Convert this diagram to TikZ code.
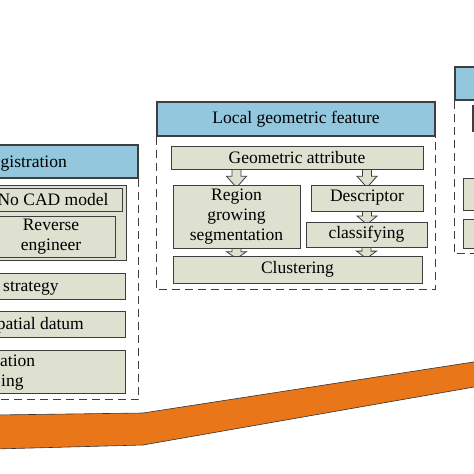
\documentclass[tikz,border=0pt]{standalone}
\usepackage{fontspec}
\setmainfont{Liberation Serif}
\usetikzlibrary{calc,backgrounds}
\definecolor{headblue}{RGB}{146,199,222}
\definecolor{boxgray}{RGB}{222,224,208}
\definecolor{edgegray}{RGB}{62,62,62}
\definecolor{bandorange}{RGB}{234,118,26}

\begin{document}
\begin{tikzpicture}[x=1pt, y=-1pt, font=\fontsize{17.5}{20}\selectfont,
    head/.style={draw=edgegray, fill=headblue, line width=1.1pt, inner sep=0pt},
    stepbox/.style={draw=edgegray, fill=boxgray, line width=1pt, inner sep=0pt, align=center},
    cuttxt/.style={inner sep=0pt},
    panel/.style={edgegray, line width=1.3pt, dash pattern=on 8pt off 5pt},
    blockarrow/.style={draw=edgegray, fill=boxgray, line width=0.8pt, line join=miter}]

    \useasboundingbox (0,0) rectangle (474,474);
    \clip (0,0) rectangle (474,474);

    % --- banda ---
    \draw[fill=bandorange, draw=black!80, line width=0.6pt]
        (-5,415) -- (143,413) -- (480,361) -- (480,386) -- (143,445) -- (-5,449) -- cycle;

    % --- panel izquierdo ---
    \node[head, minimum width=278, minimum height=33] (headL) at (-1,161.5) {};
    \node[cuttxt, anchor=base west] (headLtxt) at (0.5,167) {gistration};
    \draw[panel] (headL.south east) -- ++(0,221) -- ++(-150,0);

    \node[stepbox, minimum width=146, minimum height=75] (group) at (53,222.5) {};
    \node[stepbox, minimum width=138, minimum height=23] (nocad) at (53,199.5) {No CAD model};
    \node[stepbox, minimum width=128, minimum height=41] (rev) at (51,236.5) {Reverse\\engineer};

    \node[stepbox, minimum width=166, minimum height=26] (strat) at (42.5,286) {};
    \node[cuttxt, anchor=base west] (strattxt) at (3,291.5) {strategy};
    \node[stepbox, minimum width=166, minimum height=26] (spat) at (42.5,324) {};
    \node[cuttxt, anchor=base east] (spattxt) at (84,329.5) {spatial datum};
    \node[stepbox, minimum width=166, minimum height=43] (last) at (42.5,371.5) {};
    \node[cuttxt, anchor=base west] (lasttxtA) at (0,366) {ation};
    \node[cuttxt, anchor=base west] (lasttxtB) at (1,386) {ing};

    % --- panel central ---
    \node[head, minimum width=278, minimum height=34] (head) at (296,119) {Local geometric feature};
    \draw[panel] (head.south west) -- ++(0,153) -| (head.south east);

    \node[stepbox, minimum width=252, minimum height=23] (geo) at (297,157.5) {Geometric attribute};
    \node[stepbox, minimum width=127, minimum height=63] (reg) at (236.5,216.5) {Region\\growing\\segmentation};
    \node[stepbox, minimum width=112, minimum height=26] (desc) at (367,198) {Descriptor};
    \node[stepbox, minimum width=121, minimum height=25] (cls) at (366.5,234.5) {classifying};
    \node[stepbox, minimum width=249, minimum height=27] (clu) at (297.5,269.5) {Clustering};

    % --- flechas de bloque ---
    \begin{scope}[on background layer]
    \foreach \s/\t in {{geo.south -| reg.north}/{reg.north}, {geo.south -| desc.north}/{desc.north},
                       {desc.south}/{desc.south |- cls.north}, {reg.south}/{reg.south |- clu.north},
                       {cls.south}/{cls.south |- clu.north}, {nocad.south -| rev.north}/{rev.north}}{
        \coordinate (s) at (\s);
        \coordinate (t) at (\t);
        \coordinate (m) at ($(s)!0.45!(t)$);
        \draw[blockarrow] ($(s)+(-4.5,-3)$) -- ($(m)+(-4.5,0)$) -- ($(m)+(-10,0)$)
            -- ($(t)+(0,3)$) -- ($(m)+(10,0)$) -- ($(m)+(4.5,0)$) -- ($(s)+(4.5,-3)$);
    }
    \end{scope}

    % --- panel derecho ---
    \node[head, minimum width=105, minimum height=33] (headR) at (507.5,83.5) {};
    \draw[panel] (headR.south west) -- ++(0,153) -- ++(60,0);
    \node[draw=edgegray, fill=white, line width=3pt, minimum width=30, minimum height=24] (dark) at (488,118) {};
    \node[stepbox, minimum width=137, minimum height=32] (rboxA) at (531.5,194) {};
    \node[stepbox, minimum width=137, minimum height=29] (rboxB) at (531.5,233.5) {};

\end{tikzpicture}
\end{document}
